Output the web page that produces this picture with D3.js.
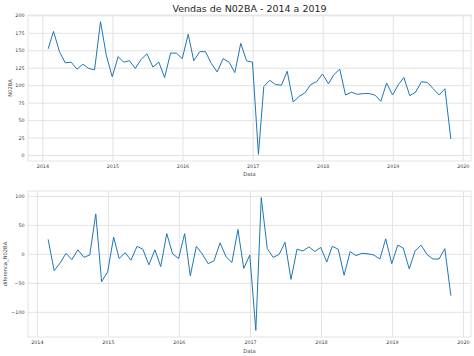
<!DOCTYPE html>
<html><head><meta charset="utf-8">
<script src="https://cdn.jsdelivr.net/npm/d3@7"></script>
<style>body{margin:0;background:#fff} text{font-family:"DejaVu Sans",sans-serif}</style>
</head><body><svg id="c" width="474" height="356"></svg>
<script>
// Monthly sales N02BA, Jan 2014 .. Oct 2019
const sales = [
  152,177,148,132,133,123,130,124,122,191,143,112,
  141,133,135,124,137,145,126,133,111,146,146,138,
  173,135,148,148,131,119,138,133,118,160,135,133,
  1,98,107,101,100,120,76,84,89,101,105,116,
  102,115,123,86,90,87,88,88,86,77,103,86,
  101,111,85,90,105,104,95,86,95,23
];
// Month-to-month difference, Feb 2014 .. Oct 2019
const diffSales = [
  25,-29,-16,1,-10,7,-6,-2,69,-48,-31,
  29,-8,2,-11,13,8,-19,7,-22,35,0,-8,
  35,-38,13,0,-17,-12,19,-5,-15,42,-25,-2,
  -132,97,9,-6,-1,20,-44,8,5,12,4,11,
  -14,13,8,-37,4,-3,1,0,-2,-9,26,-17,
  15,10,-26,5,15,-1,-9,-9,9,-72
];
const yearTicks = [2014,2015,2016,2017,2018,2019,2020];
const salesTicks = [0,25,50,75,100,125,150,175,200];
const diffTicks = [-100,-50,0,50,100];
const titleText = "Vendas de N02BA - 2014 a 2019";

const monthEnd = i => new Date(2014, i + 1, 0);
const salesDates = sales.map((_, i) => monthEnd(i));
const diffDates = diffSales.map((_, i) => monthEnd(i + 1));

const svg = d3.select("#c");
const L = 28, R = 471;
const gridColor = "#e3e3e3", textColor = "#3a3a3a";

function pad(ext) { const d = ext[1] - ext[0]; return [ext[0] - d * 0.05, ext[1] + d * 0.05]; }

function panel(values, dates, top, bottom, ticks, ylabel, ylabelX, xlabelY) {
  const xe = d3.extent(dates).map(d => +d);
  const x = d3.scaleTime().domain(pad(xe).map(v => new Date(v))).range([L, R]);
  const y = d3.scaleLinear().domain(pad(d3.extent(values))).range([bottom, top]);
  const g = svg.append("g");
  g.append("rect").attr("x", L).attr("y", top).attr("width", R - L).attr("height", bottom - top)
    .attr("fill", "none").attr("stroke", gridColor).attr("stroke-width", 1);
  const ya = g.append("g").attr("transform", `translate(${L},0)`)
    .call(d3.axisLeft(y).tickValues(ticks).tickSize(-(R - L)).tickPadding(3.5));
  const xa = g.append("g").attr("transform", `translate(0,${bottom})`)
    .call(d3.axisBottom(x).tickValues(yearTicks.map(yr => new Date(yr, 0, 1)))
      .tickFormat(d3.timeFormat("%Y")).tickSize(-(bottom - top)).tickPadding(4));
  [ya, xa].forEach(a => {
    a.select(".domain").remove();
    a.selectAll("line").attr("stroke", gridColor).attr("stroke-width", 1);
    a.selectAll("text").attr("fill", textColor).attr("font-size", 4.8);
  });
  g.append("path").datum(values.map((v, i) => [dates[i], v]))
    .attr("fill", "none").attr("stroke", "#1f77b4").attr("stroke-width", 1)
    .attr("stroke-linejoin", "round")
    .attr("d", d3.line().x(d => x(d[0])).y(d => y(d[1])));
  g.append("text").attr("x", (L + R) / 2).attr("y", xlabelY).attr("text-anchor", "middle")
    .attr("font-size", 5.2).attr("fill", textColor).text("Data");
  g.append("text").attr("transform", `translate(${ylabelX},${(top + bottom) / 2}) rotate(-90)`)
    .attr("text-anchor", "middle").attr("font-size", 5.2).attr("fill", textColor).text(ylabel);
}

svg.append("text").attr("x", (L + R) / 2).attr("y", 11.5).attr("text-anchor", "middle")
  .attr("font-size", 9.5).attr("fill", "#262626").text(titleText);

panel(sales, salesDates, 15, 161, salesTicks, "N02BA", 11.8, 176.3);
panel(diffSales, diffDates, 191, 337, diffTicks, "diferenca_N02BA", 7, 352.5);
</script></body></html>
